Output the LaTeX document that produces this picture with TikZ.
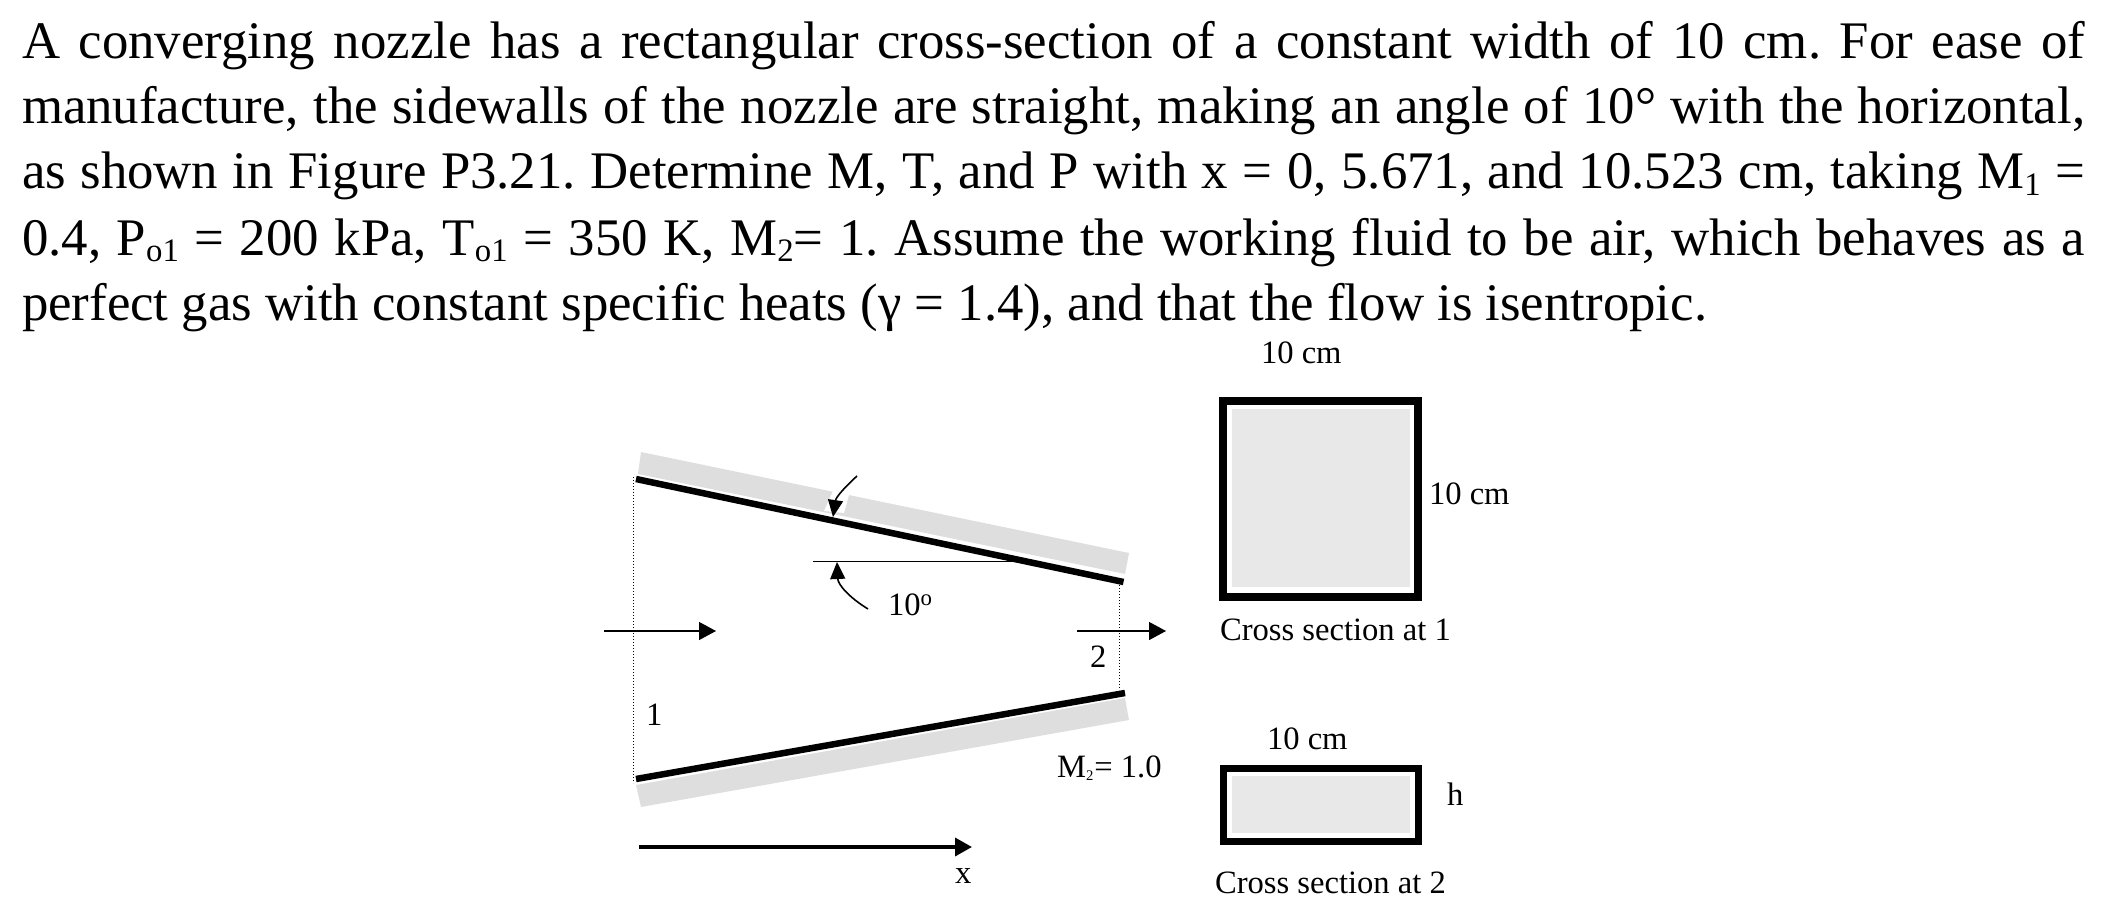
\documentclass[tikz,border=0pt]{standalone}
\usepackage{fontspec}
\setmainfont{Liberation Serif}
\usetikzlibrary{arrows.meta}
\tikzset{
  x=1pt,y=-1pt,
  para/.style={anchor=base west,inner sep=0pt,outer sep=0pt,font=\fontsize{52.8}{60}\selectfont},
  lbl/.style={anchor=base west,inner sep=0pt,outer sep=0pt,font=\fontsize{32.6}{36}\selectfont,text=black},
  band/.style={fill=black!13,draw=none},
  wall/.style={draw=black,line width=6.5pt},
  frame/.style={draw=black,line width=8pt,miter limit=10},
  inner/.style={fill=black!9,draw=none},
  dotline/.style={draw=black,line width=1pt,dotted},
  flow/.style={draw=black,line width=1.3pt,-{Triangle[length=17pt,width=18pt]}},
  note/.style={draw=black,line width=1.6pt,-{Triangle[length=17pt,width=15pt]}},
}
\newcommand{\fullline}[1]{\hbox to 2063pt{#1}}
\newcommand{\lowtext}[1]{\raisebox{-0.12em}{\scalebox{0.62}{#1}}}
\newcommand{\tinysub}[1]{\raisebox{-0.1em}{\scalebox{0.45}{#1}}}
\frenchspacing
\begin{document}
\begin{tikzpicture}
\useasboundingbox (0,0) rectangle (2122,920);
% problem text
\node[para] (l1) at (22,59) {\fullline{A converging nozzle has a rectangular cross-section of a constant width of 10 cm. For ease of}};
\node[para] (l2) at (22,124) {\fullline{manufacture, the sidewalls of the nozzle are straight, making an angle of 10° with the horizontal,}};
\node[para] (l3) at (22,189) {\fullline{as shown in Figure P3.21. Determine M, T, and P with x = 0, 5.671, and 10.523 cm, taking M\lowtext{1} =}};
\node[para] (l4) at (22,255) {\fullline{0.4, P\lowtext{o1} = 200 kPa, T\lowtext{o1} = 350 K, M\lowtext{2}= 1. Assume the working fluid to be air, which behaves as a}};
\node[para] (l5) at (22,320) {perfect gas with constant specific heats (γ = 1.4), and that the flow is isentropic.};
% nozzle bands
\fill[band] (641,452) -- (1129,553) -- (1125,574) -- (638,474) -- cycle;
\fill[band] (636,785) -- (1125,698) -- (1129,720) -- (641,807) -- cycle;
\fill[white] (833,491) -- (849,495) -- (844,513) -- (824,511) -- cycle;
% walls
\coordinate (tl) at (636,479);
\coordinate (tr) at (1123.5,582);
\coordinate (bl) at (636,779);
\coordinate (br) at (1125,693);
\draw[wall] (tl) -- (tr);
\draw[wall] (bl) -- (br);
% stations
\coordinate (d1a) at (633,477);
\coordinate (d1b) at (633,783);
\coordinate (d2a) at (1119.5,585);
\coordinate (d2b) at (1119.5,690);
\draw[dotline] (d1a) -- (d1b);
\draw[dotline] (d2a) -- (d2b);
% flow arrows
\coordinate (f1a) at (604,631);
\coordinate (f1b) at (716,631);
\coordinate (f2a) at (1077,631);
\coordinate (f2b) at (1166,631);
\draw[flow] (f1a) -- (f1b);
\draw[flow] (f2a) -- (f2b);
% angle
\coordinate (ha) at (813,561);
\coordinate (hb) at (1015,561);
\draw[black,line width=1pt] (ha) -- (hb);
\coordinate (aa) at (868,609);
\coordinate (ab) at (837,562);
\draw[note] (aa) .. controls (850,598) and (838,585) .. (ab);
\coordinate (wa) at (857,476);
\coordinate (wb) at (833,517);
\draw[note] (wa) .. controls (845,487) and (836,497) .. (wb);
% x axis
\coordinate (xa) at (639,847);
\coordinate (xb) at (972,847);
\draw[draw=black,line width=3.5pt,-{Triangle[length=17pt,width=18pt]}] (xa) -- (xb);
% labels
\node[lbl] (ang) at (888,615) {10\textsuperscript{o}};
\node[lbl] (n1) at (646,725) {1};
\node[lbl] (n2) at (1090,667) {2};
\node[lbl] (m2) at (1057,777) {M\tinysub{2}\kern1pt= 1.0};
\node[lbl] (xl) at (955,883) {x};
% cross section 1
\fill[inner] (1232,409) rectangle (1410,587);
\draw[frame] (1223,401) rectangle (1418,597);
\node[lbl] (s1t) at (1261,363) {10 cm};
\node[lbl] (s1r) at (1429,504) {10 cm};
\node[lbl] (s1c) at (1220,640) {Cross section at 1};
% cross section 2
\fill[inner] (1232,776) rectangle (1410,832.5);
\draw[draw=black,line width=7pt] (1223,768.5) rectangle (1418,841.5);
\node[lbl] (s2t) at (1267,749) {10 cm};
\node[lbl] (s2r) at (1447,805) {h};
\node[lbl] (s2c) at (1215,893) {Cross section at 2};
\end{tikzpicture}
\end{document}
